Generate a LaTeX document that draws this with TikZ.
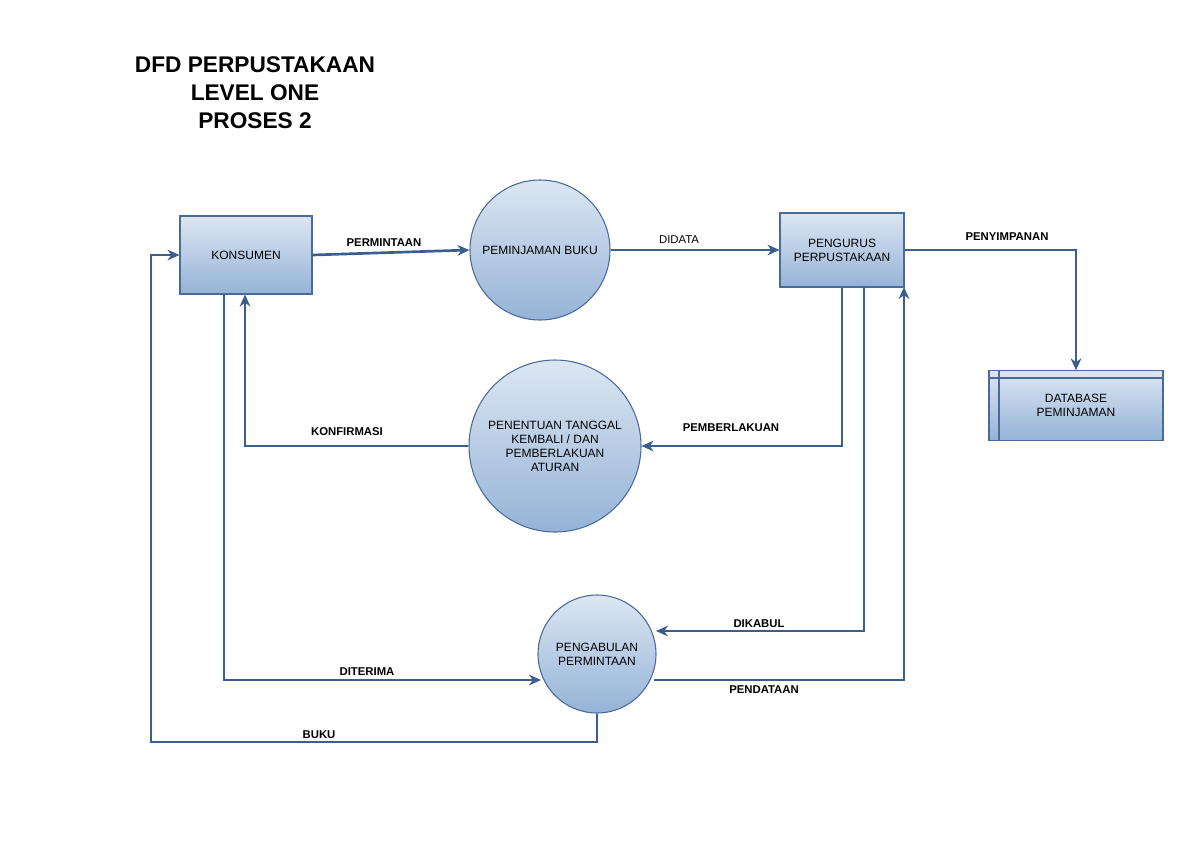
\documentclass[tikz,border=0pt]{standalone}
\usepackage{fontspec}
\setmainfont{Liberation Sans}
\usetikzlibrary{arrows.meta}
\definecolor{bd}{HTML}{4A6B99}
\definecolor{ln}{HTML}{3A5F8F}
\definecolor{gtop}{HTML}{DCE6F2}
\definecolor{gbot}{HTML}{95B3D7}
\tikzset{
 ent/.style={draw=bd,line width=0.8pt,top color=gtop,bottom color=gbot,align=center,font=\fontsize{9}{10.5}\selectfont,inner sep=0},
 proc/.style={ent,circle},
 flow/.style={draw=ln,line width=2pt,-{Stealth[length=9pt,width=8pt]}},
 lbl/.style={font=\bfseries\fontsize{8.5}{10}\selectfont},
}
\begin{document}
\begin{tikzpicture}[x=0.75pt,y=-0.75pt]
\useasboundingbox (0,0) rectangle (1188,840);
\node[font=\bfseries\fontsize{17}{21}\selectfont,align=center] (t) at (255,93) {DFD PERPUSTAKAAN\\LEVEL ONE\\PROSES 2};
\node[ent,minimum width=99pt,minimum height=58.5pt] (k) at (246,255) {KONSUMEN};
\node[ent,minimum width=93pt,minimum height=55.5pt] (p) at (842,250) {PENGURUS\\PERPUSTAKAAN};
\node[ent,minimum width=130.5pt,minimum height=52pt] (db) at (1076,405.5) {DATABASE\\PEMINJAMAN};
\draw[bd,line width=0.8pt] (999,371) -- (999,440) (989,378) -- (1163,378);
\node[proc,minimum size=105pt] (c1) at (540,250) {PEMINJAMAN BUKU};
\node[proc,minimum size=129pt] (c2) at (555,446) {PENENTUAN TANGGAL\\KEMBALI / DAN\\PEMBERLAKUAN\\ATURAN};
\node[proc,minimum size=88.5pt] (c3) at (597,654) {PENGABULAN\\PERMINTAAN};
\draw[flow] (k.east) -- (c1.west);
\node[lbl] at (384,243) {PERMINTAAN};
\draw[flow] (c1.east) -- (p.west);
\node[font=\fontsize{8.5}{10}\selectfont] at (679,240) {DIDATA};
\coordinate (a1) at (1076,250);
\draw[flow] (p.east) -- (a1) -- (db.north);
\node[lbl] at (1007,237) {PENYIMPANAN};
\coordinate (a2) at (842,446);
\draw[flow] (p.south) -- (a2) -- (c2.east);
\node[lbl] at (731,428) {PEMBERLAKUAN};
\coordinate (a3) at (245,446);
\draw[flow] (c2.west) -- (a3) -- (a3 |- k.south);
\node[lbl] at (347,432) {KONFIRMASI};
\coordinate (b1) at (864,287); \coordinate (b2) at (864,631); \coordinate (b3) at (656,631);
\draw[flow] (b1) -- (b2) -- (b3);
\node[lbl] at (759,624) {DIKABUL};
\coordinate (d1) at (224,294); \coordinate (d2) at (224,680); \coordinate (d3) at (541,680);
\draw[flow] (d1) -- (d2) -- (d3);
\node[lbl] at (367,672) {DITERIMA};
\coordinate (e1) at (654,680); \coordinate (e2) at (904,680); \coordinate (e3) at (904,287);
\draw[flow] (e1) -- (e2) -- (e3);
\node[lbl] at (764,690) {PENDATAAN};
\coordinate (f1) at (597,742); \coordinate (f2) at (151,742); \coordinate (f3) at (151,255);
\draw[flow] (c3.south) -- (f1) -- (f2) -- (f3) -- (k.west);
\node[lbl] at (319,735) {BUKU};
\end{tikzpicture}
\end{document}
